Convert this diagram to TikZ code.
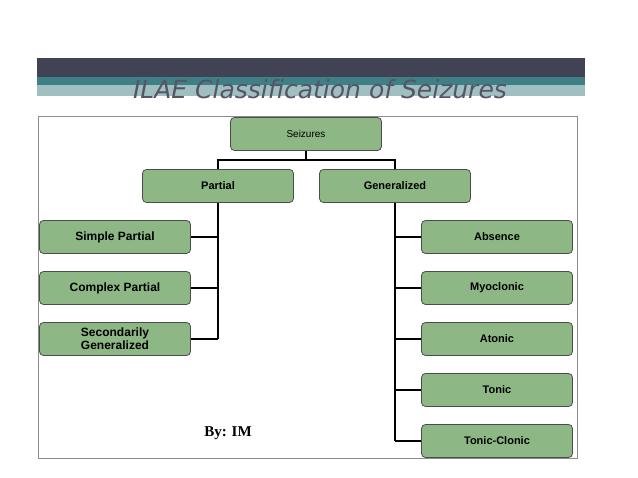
\documentclass[tikz,border=0pt]{standalone}
\usepackage{fontspec}
\setmainfont{Liberation Sans}
\newfontfamily\ttlfont{DejaVu Sans}
\newfontfamily\byfont{Liberation Serif}
\begin{document}
\begin{tikzpicture}[x=1pt,y=-1pt,
  box/.style={draw=black!70,line width=0.8pt,fill=boxg,rounded corners=4pt,minimum width=151pt,minimum height=33pt,align=center,font=\bfseries\fontsize{11}{12}\selectfont,inner sep=1pt},
  ln/.style={line width=1.6pt,black}]
\definecolor{boxg}{HTML}{8DB784}
\definecolor{bard}{HTML}{424255}
\definecolor{teal}{HTML}{3F8084}
\definecolor{tealL}{HTML}{9FBFC0}
\useasboundingbox (0,0) rectangle (638,478);
\fill[white] (0,0) rectangle (638,478);
% header
\fill[tealL] (37,77) rectangle (585,96);
\fill[teal] (37,77) rectangle (585,85);
\fill[bard] (37,58) rectangle (585,77);
\node[font=\ttlfont\itshape\fontsize{25}{28}\selectfont,text=bard!90] (title) at (320,89) {ILAE Classification of Seizures};
% frame
\draw[black!45,line width=0.8pt] (38,116) rectangle (577,458);
\node[box,font=\fontsize{10}{12}\selectfont] (s) at (306,134) {Seizures};
\node[box] (p) at (218,186) {Partial};
\node[box] (g) at (395,186) {Generalized};
\node[box,font=\bfseries\fontsize{12}{13}\selectfont] (sp) at (115,237) {Simple Partial};
\node[box,font=\bfseries\fontsize{12}{13}\selectfont] (cp) at (115,288) {Complex Partial};
\node[box,font=\bfseries\fontsize{12}{13}\selectfont] (sg) at (115,339) {Secondarily\\Generalized};
\node[box] (ab) at (497,237) {Absence};
\node[box] (my) at (497,288) {Myoclonic};
\node[box] (at) at (497,339) {Atonic};
\node[box] (to) at (497,390) {Tonic};
\node[box] (tc) at (497,441) {Tonic-Clonic};
\coordinate (j) at (306,160);
\draw[ln] (s.south) -- (j);
\draw[ln] (p.north) |- (j) -| (g.north);
\draw[ln] (p.south) -- (218,339);
\draw[ln] (g.south) -- (395,441);
\foreach \n in {sp,cp,sg} \draw[ln] (\n.east) -- (\n.east -| p.south);
\foreach \n in {ab,my,at,to,tc} \draw[ln] (\n.west) -- (\n.west -| g.south);
\node[font=\byfont\bfseries\fontsize{15}{16}\selectfont] (by) at (228,433) {By: IM};
\end{tikzpicture}
\end{document}
